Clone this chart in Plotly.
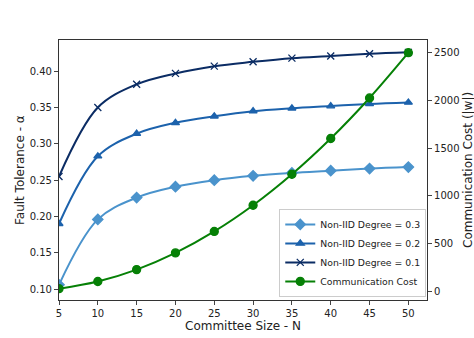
import plotly.graph_objects as go

committee = [5, 10, 15, 20, 25, 30, 35, 40, 45, 50]
niid_03 = [0.106, 0.196, 0.226, 0.241, 0.250, 0.256, 0.260, 0.263, 0.266, 0.268]
niid_02 = [0.190, 0.283, 0.314, 0.329, 0.338, 0.345, 0.349, 0.352, 0.355, 0.357]
niid_01 = [0.255, 0.350, 0.382, 0.397, 0.407, 0.413, 0.418, 0.421, 0.424, 0.426]
comm_cost = [25, 100, 225, 400, 625, 900, 1225, 1600, 2025, 2500]

left_ticks = [0.10, 0.15, 0.20, 0.25, 0.30, 0.35, 0.40]
right_ticks = [0, 500, 1000, 1500, 2000, 2500]
x_ticks = [5, 10, 15, 20, 25, 30, 35, 40, 45, 50]

FONT = "DejaVu Sans"
fig = go.Figure()

def add(y, name, color, symbol, yaxis="y", size=7):
    fig.add_trace(go.Scatter(
        x=committee, y=y, name=name, yaxis=yaxis, mode="lines+markers",
        line=dict(color=color, width=2, shape="spline", smoothing=1.0),
        marker=dict(color=color, symbol=symbol, size=size,
                    line=dict(color=color, width=1.3)),
    ))

add(niid_03, "Non-IID Degree = 0.3", "#4a93cc", "diamond", size=8)
add(niid_02, "Non-IID Degree = 0.2", "#1c62ac", "triangle-up", size=7)
add(niid_01, "Non-IID Degree = 0.1", "#0b2c64", "x-thin", size=7)
add(comm_cost, "Communication Cost", "#068006", "circle", yaxis="y2", size=8)

axcol = "#333333"
title_font = dict(size=12, family=FONT, color="#222222")
fig.update_layout(
    width=474, height=338,
    margin=dict(l=59, r=47, t=40, b=38),
    paper_bgcolor="white", plot_bgcolor="white",
    font=dict(family=FONT, size=10, color="#222222"),
    showlegend=True,
    legend=dict(x=0.998, y=0.012, xanchor="right", yanchor="bottom",
                bgcolor="rgba(255,255,255,0.9)", bordercolor="#cccccc", borderwidth=1,
                font=dict(size=9.3, family=FONT), tracegroupgap=0,
                itemwidth=30),
    xaxis=dict(range=[5, 52.4], tickvals=x_ticks, ticks="outside", ticklen=4,
               showgrid=False, zeroline=False, showline=True, linecolor=axcol, linewidth=1.2,
               mirror=True, automargin=False),
    yaxis=dict(range=[0.085, 0.443], tickvals=left_ticks, tickformat=".2f", ticks="outside",
               ticklen=4, showgrid=False, zeroline=False, showline=True, linecolor=axcol,
               linewidth=1.2, automargin=False),
    yaxis2=dict(range=[-94, 2633], tickvals=right_ticks, overlaying="y", side="right",
                ticks="outside", ticklen=4, showgrid=False, zeroline=False, showline=True,
                linecolor=axcol, linewidth=1.2, automargin=False),
    annotations=[
        dict(text="Committee Size - N", xref="paper", yref="paper", x=0.5, y=0,
             xanchor="center", yanchor="middle", yshift=-26, showarrow=False, font=title_font),
        dict(text="Fault Tolerance - α", xref="paper", yref="paper", x=0, y=0.5,
             xanchor="center", yanchor="middle", xshift=-39, textangle=-90,
             showarrow=False, font=title_font),
        dict(text="Communication Cost (|w|)", xref="paper", yref="paper", x=1, y=0.5,
             xanchor="center", yanchor="middle", xshift=41, textangle=-90,
             showarrow=False, font=title_font),
    ],
)

fig.write_html("out.html")
